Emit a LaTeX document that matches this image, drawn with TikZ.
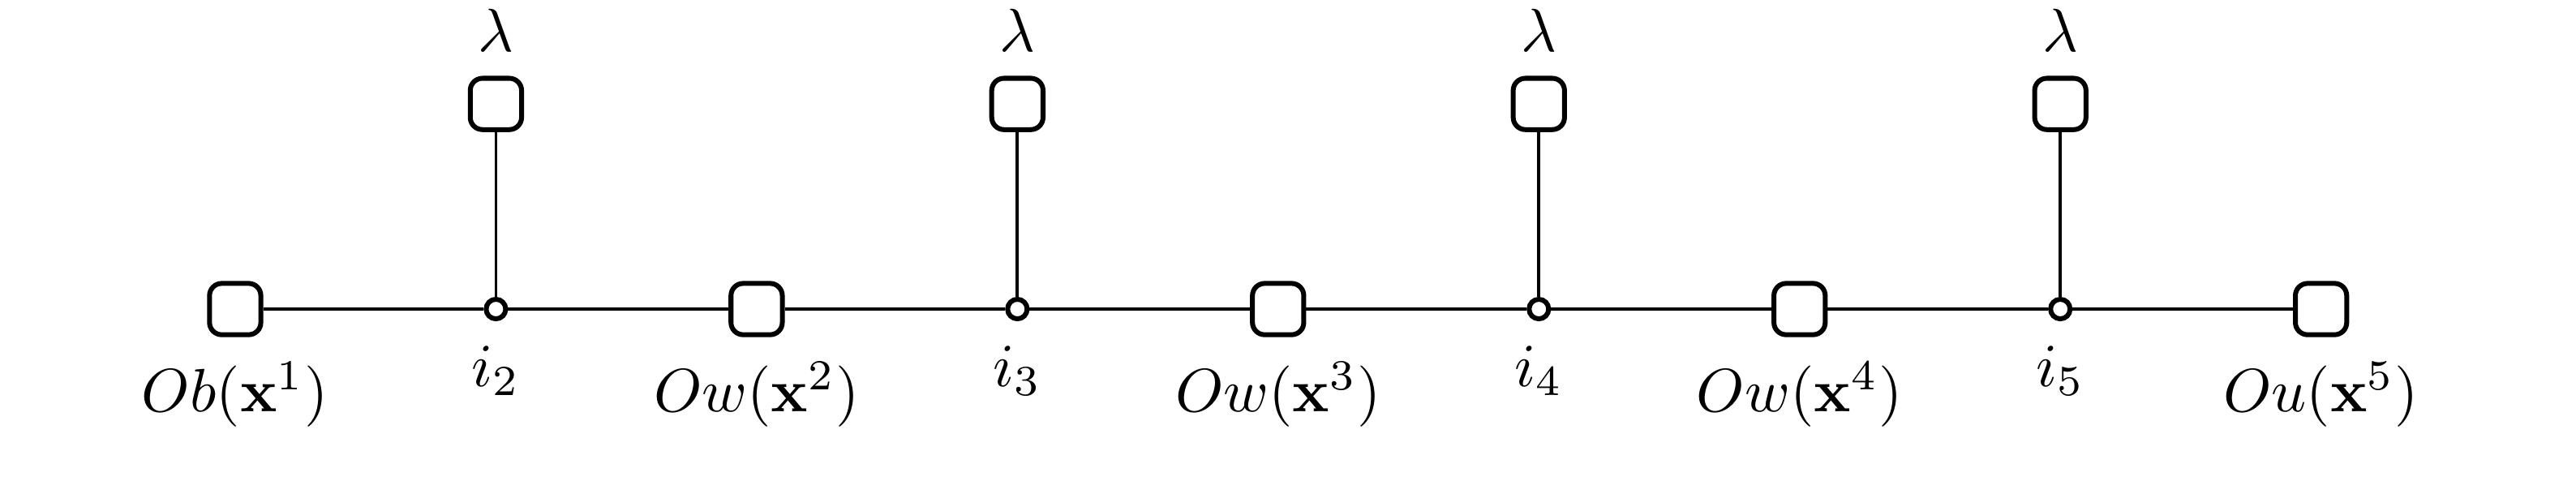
\documentclass[tikz,border=0pt]{standalone}
\usepackage{amsmath}
\usepackage{amssymb}
\usetikzlibrary{positioning}

\begin{document}
\begin{tikzpicture}[
        node distance=1.5cm and 1.5cm, on grid,
        label distance=0.5pt,
        fac/.style={rectangle, rounded corners=2pt,
          draw, line width=0.8pt, fill=white,
          minimum size=8.4pt, inner sep=0pt},
        obs/.style={fac, label distance=2.4pt},
        var/.style={circle, draw, line width=0.8pt, fill=white,
          minimum size=3.2pt, inner sep=0pt},
        edge/.style={line width=0.5pt}
      ]
        \useasboundingbox (-1.353,-0.985) rectangle (13.467,1.778);
        \node[obs, label=below:{$Ob(\mathbf{x}^1)$}] (o1) at (0,0) {};
        \node[var, right=of o1, label=below:{$i_2$}] (i2) {};
        \node[fac, above=1.18cm of i2, label=above:{$\lambda$}] (l2) {};
        \node[obs, right=of i2, label=below:{$Ow(\mathbf{x}^2)$}] (o2) {};
        \node[var, right=of o2, label=below:{$i_3$}] (i3) {};
        \node[fac, above=1.18cm of i3, label=above:{$\lambda$}] (l3) {};
        \node[obs, right=of i3, label=below:{$Ow(\mathbf{x}^3)$}] (o3) {};
        \node[var, right=of o3, label=below:{$i_4$}] (i4) {};
        \node[fac, above=1.18cm of i4, label=above:{$\lambda$}] (l4) {};
        \node[obs, right=of i4, label=below:{$Ow(\mathbf{x}^4)$}] (o4) {};
        \node[var, right=of o4, label=below:{$i_5$}] (i5) {};
        \node[fac, above=1.18cm of i5, label=above:{$\lambda$}] (l5) {};
        \node[obs, right=of i5, label=below:{$Ou(\mathbf{x}^5)$}] (o5) {};
        % chain and the lambda factors
        \draw[edge] (o1) -- (i2) -- (o2) -- (i3) -- (o3) -- (i4) -- (o4) -- (i5) -- (o5);
        \draw[edge] (l2) -- (i2);
        \draw[edge] (l3) -- (i3);
        \draw[edge] (l4) -- (i4);
        \draw[edge] (l5) -- (i5);
      \end{tikzpicture}
\end{document}
